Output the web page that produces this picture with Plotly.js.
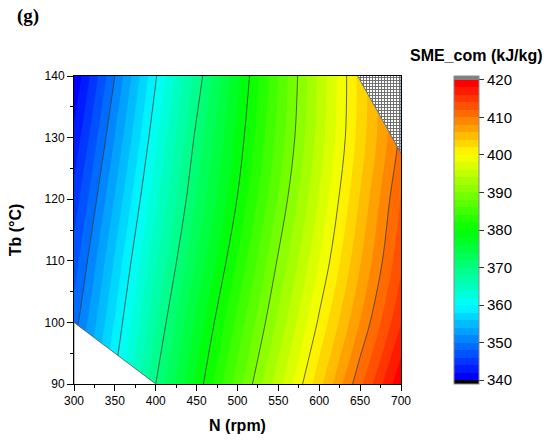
<!DOCTYPE html>
<html>
<head>
<meta charset="utf-8">
<script src="https://cdn.plot.ly/plotly-3.0.1.min.js"></script>
<style>
  html, body { margin: 0; padding: 0; background: #fff; }
  #chart { width: 550px; height: 444px; }
</style>
</head>
<body>
<div id="chart"></div>
<script>
// ---- data ----
const N_rpm = [300, 350, 400, 450, 500, 550, 600, 650, 700];
const Tb_C  = [90, 100, 110, 120, 130, 140];

// SME_com (kJ/kg) estimated along each Tb row
const sme_T90  = [351.6, 360.2, 370.0, 378.6, 387.0, 395.2, 403.3, 411.5, 419.7];
const sme_T100 = [349.0, 358.2, 367.8, 376.5, 384.6, 392.5, 400.4, 408.1, 415.9];
const sme_T110 = [346.9, 356.3, 365.6, 374.2, 382.2, 390.3, 398.0, 405.8, 413.5];
const sme_T120 = [344.8, 354.2, 363.5, 372.2, 380.1, 388.2, 396.2, 404.2, 412.2];
const sme_T130 = [342.5, 352.1, 361.6, 370.6, 378.7, 386.7, 394.9, 402.9, 410.5];
const sme_T140 = [340.2, 350.0, 359.8, 368.7, 377.5, 386.0, 394.5, 402.7, 410.0];

// regions outside the design space
const noDataN = [300, 300, 400];
const noDataT = [90, 100, 90];
const outN = [647, 690, 700, 700];
const outT = [140, 130, 127.5, 140];

const xTicks  = [300, 350, 400, 450, 500, 550, 600, 650, 700];
const yTicks  = [90, 100, 110, 120, 130, 140];
const cbTicks = [340, 350, 360, 370, 380, 390, 400, 410, 420];

const zGrid = [sme_T90, sme_T100, sme_T110, sme_T120, sme_T130, sme_T140];

// colour scale: value v maps to (v-339)/82 (band centres of 2-unit bands 338..422)
const colorscale = [
  [0, 'rgb(0,0,0)'],
  [2/82, 'rgb(0,0,255)'],
  [21/82, 'rgb(0,255,255)'],
  [41/82, 'rgb(0,255,0)'],
  [61/82, 'rgb(255,255,0)'],
  [80/82, 'rgb(255,0,0)'],
  [1, 'rgb(128,128,128)']
];

const W = 550, H = 444;
const L = 74, R = 149, T = 76, B = 60;
const pw = W - L - R, ph = H - T - B;

const fillTrace = {
  type: 'contour',
  x: N_rpm, y: Tb_C, z: zGrid,
  autocontour: false,
  contours: { start: 340, end: 420, size: 2, coloring: 'fill', showlines: false },
  line: { width: 0, smoothing: 1 },
  colorscale: colorscale,
  showscale: true,
  colorbar: {
    x: (454 - L) / pw, xanchor: 'left', xpad: 0,
    y: 0.5, yanchor: 'middle', ypad: 0,
    len: 1, lenmode: 'fraction',
    thickness: 25,
    outlinewidth: 1, outlinecolor: '#8a8a8a',
    tickmode: 'array', tickvals: cbTicks, ticktext: cbTicks.map(String),
    ticks: 'outside', ticklen: 5, tickcolor: '#333', tickwidth: 1,
    tickfont: { family: 'Liberation Sans, Arial, sans-serif', size: 15, color: '#000' }
  },
  hoverinfo: 'skip'
};

const lineTrace = {
  type: 'contour',
  x: N_rpm, y: Tb_C, z: zGrid,
  autocontour: false,
  contours: { start: 350, end: 410, size: 10, coloring: 'none', showlines: true },
  line: { color: 'rgba(55,55,55,0.85)', width: 0.9, smoothing: 1 },
  showscale: false,
  hoverinfo: 'skip'
};

const noDataTrace = {
  type: 'scatter', mode: 'lines',
  x: noDataN, y: noDataT,
  fill: 'toself', fillcolor: '#ffffff',
  line: { color: '#555', width: 0.8 },
  showlegend: false, hoverinfo: 'skip'
};

const outTrace = {
  type: 'scatter', mode: 'lines',
  x: outN, y: outT,
  fill: 'toself',
  fillcolor: '#ffffff',
  fillpattern: { shape: '+', fgcolor: '#6e6e6e', bgcolor: '#ffffff', size: 3, solidity: 0.55 },
  line: { color: '#4f6f8f', width: 0.9 },
  showlegend: false, hoverinfo: 'skip'
};

const tickFont = { family: 'Liberation Sans, Arial, sans-serif', size: 12, color: '#000' };
const titleFont = { family: 'Liberation Sans, Arial, sans-serif', size: 16, color: '#000', weight: 'bold' };

const layout = {
  width: W, height: H,
  margin: { l: L, r: R, t: T, b: B, pad: 0 },
  paper_bgcolor: '#fff', plot_bgcolor: '#fff',
  showlegend: false,
  xaxis: {
    range: [300, 700], tickmode: 'array', tickvals: xTicks, ticktext: xTicks.map(String),
    ticks: 'outside', ticklen: 6, tickcolor: '#000', tickwidth: 1,
    minor: { ticks: 'outside', ticklen: 3, dtick: 25, tick0: 300, tickcolor: '#000', showgrid: false },
    showline: true, linecolor: '#000', linewidth: 1, mirror: true,
    showgrid: false, zeroline: false,
    tickfont: tickFont,
    title: { text: '<b>N (rpm)</b>', font: titleFont, standoff: 12 }
  },
  yaxis: {
    range: [90, 140], tickmode: 'array', tickvals: yTicks, ticktext: yTicks.map(String),
    ticks: 'outside', ticklen: 6, tickcolor: '#000', tickwidth: 1,
    minor: { ticks: 'outside', ticklen: 3, dtick: 5, tick0: 90, tickcolor: '#000', showgrid: false },
    showline: true, linecolor: '#000', linewidth: 1, mirror: true,
    showgrid: false, zeroline: false,
    tickfont: tickFont,
    title: { text: '<b>Tb (°C)</b>', font: titleFont, standoff: 18 }
  },
  annotations: [
    {
      text: '<b>SME_com (kJ/kg)</b>', xref: 'paper', yref: 'paper',
      x: (475.5 - L) / pw, y: (ph + T - 55) / ph, xanchor: 'center', yanchor: 'middle',
      showarrow: false,
      font: { family: 'Liberation Sans, Arial, sans-serif', size: 16, color: '#000' }
    },
    {
      text: '<b>(g)</b>', xref: 'paper', yref: 'paper',
      x: (27.5 - L) / pw, y: (ph + T - 16) / ph, xanchor: 'center', yanchor: 'middle',
      showarrow: false,
      font: { family: 'Liberation Serif, Times New Roman, serif', size: 19, color: '#000' }
    }
  ]
};

Plotly.newPlot('chart', [fillTrace, lineTrace, noDataTrace, outTrace], layout, { staticPlot: true, displayModeBar: false });
</script>
</body>
</html>
